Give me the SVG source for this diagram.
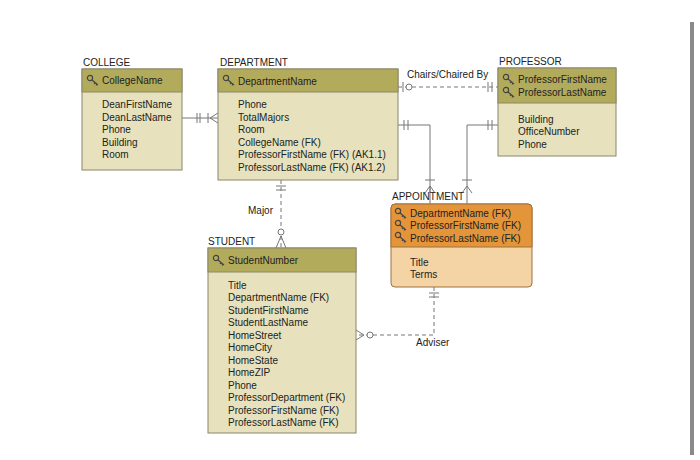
<svg xmlns="http://www.w3.org/2000/svg" width="700" height="460" viewBox="0 0 700 460">
<style>
text{font-family:"Liberation Sans",Arial,sans-serif;font-size:10px;fill:#222}
.t{font-size:10px}
.hd{fill:#b3ab5c;stroke:#8a8668;stroke-width:1}
.bd{fill:#e7e2bd;stroke:#8a8668;stroke-width:1}
.ohd{fill:#e4953a;stroke:#a07040}
.obd{fill:#f4d3a4;stroke:#a07040}
.c{fill:none;stroke:#777;stroke-width:1}
.d{fill:none;stroke:#777;stroke-width:1;stroke-dasharray:4 3}
.ci{fill:#fff;stroke:#777}
</style>
<defs>
<g id="key"><circle cx="3" cy="3" r="2.6" fill="none" stroke="#444" stroke-width="1.2"/><path d="M5 5 L11 10 M8 7.5 L7 9 M10 9 L9 10.5" stroke="#444" stroke-width="1.2" fill="none"/></g>
</defs>
<rect x="690" y="22" width="4" height="433" fill="#8a8a8a"/>
<g id="connectors">
<path class="c" d="M182 118 H218"/>
<path class="c" d="M197 113 V123 M200 113 V123 M208 113 V123 M210 118 L218 113 M210 118 L218 123"/>
<path class="d" d="M398 87 H498"/>
<path class="c" d="M403 82 V92 M488 82 V92 M492 82 V92"/>
<circle class="ci" cx="409" cy="87" r="3"/>
<text x="407" y="78">Chairs/Chaired By</text>
<path class="c" d="M398 125 H430 V204 M404 120 V130 M408 120 V130 M425 180 H435 M430 186 L425 193 M430 186 L435 193 M430 186 V193"/>
<path class="c" d="M498 125 H467 V204 M488 120 V130 M492 120 V130 M462 180 H472 M467 186 L462 193 M467 186 L472 193"/>
<path class="d" d="M281 180 V248"/>
<path class="c" d="M276 186 H286 M276 190 H286 M281 236 L276 248 M281 236 L286 248"/>
<circle class="ci" cx="281" cy="232" r="3"/>
<text x="248" y="214">Major</text>
<path class="d" d="M434 287 V335 H356"/>
<path class="c" d="M429 293 H439 M429 297 H439 M364 335 L356 330 M364 335 L356 340"/>
<circle class="ci" cx="370" cy="335" r="3"/>
<text x="416" y="346">Adviser</text>
</g>
<g id="college">
<text x="83" y="66">COLLEGE</text>
<rect class="bd" x="82" y="69" width="100" height="101"/>
<rect class="hd" x="82" y="69" width="100" height="23"/>
<use href="#key" x="87" y="75"/>
<text x="102" y="84">CollegeName</text>
<text x="102" y="108">DeanFirstName</text><text x="102" y="121">DeanLastName</text><text x="102" y="133">Phone</text><text x="102" y="146">Building</text><text x="102" y="158">Room</text>
</g>
<g id="department">
<text x="220" y="66">DEPARTMENT</text>
<rect class="bd" x="218" y="69" width="180" height="111"/>
<rect class="hd" x="218" y="69" width="180" height="23"/>
<use href="#key" x="223" y="75"/>
<text x="238" y="85">DepartmentName</text>
<text x="238" y="108">Phone</text><text x="238" y="121">TotalMajors</text><text x="238" y="133">Room</text><text x="238" y="146">CollegeName (FK)</text><text x="238" y="158">ProfessorFirstName (FK) (AK1.1)</text><text x="238" y="171">ProfessorLastName (FK) (AK1.2)</text>
</g>
<g id="professor">
<text x="499" y="65">PROFESSOR</text>
<rect class="bd" x="498" y="68" width="118" height="88"/>
<rect class="hd" x="498" y="68" width="118" height="35"/>
<use href="#key" x="503" y="74"/><use href="#key" x="503" y="87"/>
<text x="518" y="83">ProfessorFirstName</text><text x="518" y="96">ProfessorLastName</text>
<text x="518" y="123">Building</text><text x="518" y="135">OfficeNumber</text><text x="518" y="148">Phone</text>
</g>
<g id="appointment">
<text x="392" y="200">APPOINTMENT</text>
<rect class="obd" x="391" y="204" width="141" height="83" rx="4"/>
<path class="ohd" d="M391 247 V208 Q391 204 395 204 H528 Q532 204 532 208 V247 Z"/>
<use href="#key" x="395" y="208"/><use href="#key" x="395" y="220"/><use href="#key" x="395" y="232"/>
<text x="410" y="217">DepartmentName (FK)</text><text x="410" y="229">ProfessorFirstName (FK)</text><text x="410" y="242">ProfessorLastName (FK)</text>
<text x="410" y="266">Title</text><text x="410" y="278">Terms</text>
</g>
<g id="student">
<text x="208" y="245">STUDENT</text>
<rect class="bd" x="208" y="248" width="148" height="185"/>
<rect class="hd" x="208" y="248" width="148" height="24"/>
<use href="#key" x="213" y="255"/>
<text x="228" y="264">StudentNumber</text>
<text x="228" y="289">Title</text><text x="228" y="301">DepartmentName (FK)</text><text x="228" y="314">StudentFirstName</text><text x="228" y="326">StudentLastName</text><text x="228" y="339">HomeStreet</text><text x="228" y="351">HomeCity</text><text x="228" y="364">HomeState</text><text x="228" y="376">HomeZIP</text><text x="228" y="389">Phone</text><text x="228" y="401">ProfessorDepartment (FK)</text><text x="228" y="414">ProfessorFirstName (FK)</text><text x="228" y="426">ProfessorLastName (FK)</text>
</g>
</svg>
